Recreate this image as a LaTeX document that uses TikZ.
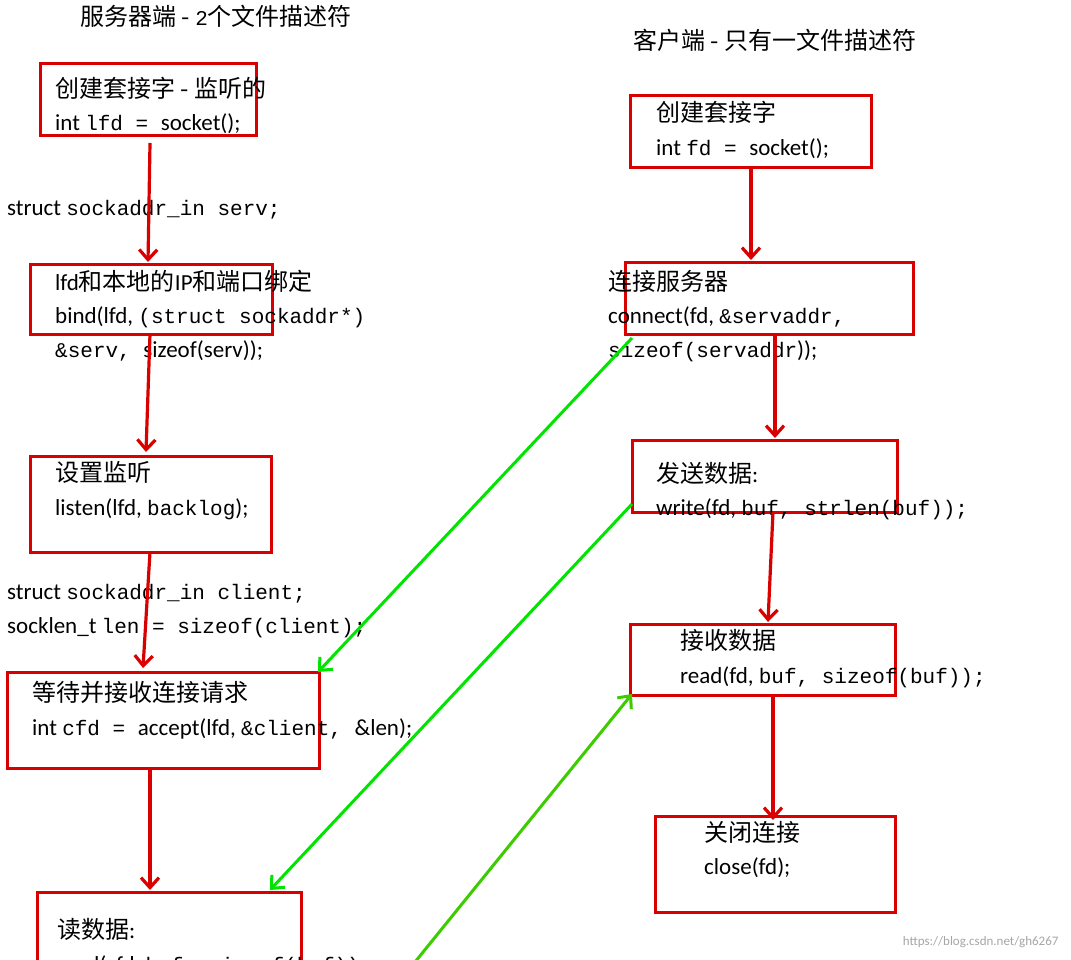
\documentclass[tikz,border=0pt]{standalone}
\usepackage{fontspec}
\setmainfont{Carlito}
\newfontfamily\cjkfam{Noto Sans CJK SC}
\newfontfamily\monofam{Liberation Mono}
\newcommand\zh{\cjkfam\fontsize{24}{26}\selectfont}
\newcommand\cm{\monofam\fontsize{21}{26}\selectfont}
\newcommand\sn{\rmfamily\fontsize{23}{26}\selectfont}
\usetikzlibrary{arrows.meta}
\tikzset{
  stepbox/.style={draw=red!85!black, line width=3pt},
  code/.style={anchor=west, inner sep=0pt, font=\fontsize{23}{26}\selectfont},
  redflow/.style={draw=red!85!black, line width=3.2pt, -{Straight Barb[length=10pt,width=18pt]}},
  greenflow/.style={draw=green!90!black, line width=3pt, -{Straight Barb[length=10pt,width=18pt]}}
}
\begin{document}
\begin{tikzpicture}[x=1pt,y=-1pt]
\useasboundingbox[fill=white] (0,0) rectangle (1071,960);
\clip (0,0) rectangle (1071,960);
% titles
\node[code] (stitle) at (80,16) {\zh 服务器端 - \cm 2\zh 个文件描述符};
\node[code] (ctitle) at (633,40) {\zh 客户端 - 只有一文件描述符};
% server side
\draw[stepbox] (40,64) rectangle (256,136);
\node[code] at (55,88) {\zh 创建套接字 - 监听的};
\node[code] at (55,124) {int \cm lfd = \sn socket();};
\node[code] at (7,210) {struct \cm sockaddr\_in serv;};
\draw[stepbox] (30,264) rectangle (272,334);
\node[code] at (55,281) {lfd\zh 和本地的\sn IP\zh 和端口绑定};
\node[code] at (55,317) {bind(lfd, \cm(struct sockaddr*)};
\node[code] at (55,351) {\cm\&serv, \sn sizeof(serv));};
\draw[stepbox] (30,456) rectangle (271,552);
\node[code] at (55,472) {\zh 设置监听};
\node[code] at (55,509) {listen(lfd, \cm backlog\sn);};
\node[code] at (7,594) {struct \cm sockaddr\_in client;};
\node[code] at (7,628) {socklen\_t \cm len = sizeof(client);};
\draw[stepbox] (7,672) rectangle (319,768);
\node[code] at (32,692) {\zh 等待并接收连接请求};
\node[code] at (32,729) {int \cm cfd = \sn accept(lfd, \cm\&client, \sn \&len);};
\draw[stepbox] (37,892) rectangle (301,975);
\node[code] at (57,929) {\zh 读数据\sn :};
\node[code] at (57,966) {read(cfd, \cm buf, sizeof(buf));};
% client side
\draw[stepbox] (630,96) rectangle (871,168);
\node[code] at (656,112) {\zh 创建套接字};
\node[code] at (656,149) {int \cm fd = \sn socket();};
\draw[stepbox] (625,262) rectangle (913,334);
\node[code] at (608,281) {\zh 连接服务器};
\node[code] at (608,317) {connect(fd, \cm\&servaddr,};
\node[code] at (608,351) {\cm sizeof(servaddr\sn));};
\draw[stepbox] (632,440) rectangle (897,512);
\node[code] at (656,473) {\zh 发送数据\sn :};
\node[code] at (656,509) {write(fd, \cm buf, strlen(buf));};
\draw[stepbox] (630,624) rectangle (895,695);
\node[code] at (680,640) {\zh 接收数据};
\node[code] at (680,677) {read(fd, \cm buf, sizeof(buf));};
\draw[stepbox] (655,816) rectangle (895,912);
\node[code] at (704,832) {\zh 关闭连接};
\node[code] at (704,868) {close(fd);};
% edges
\draw[redflow] (150,143) -- (148,262);
\draw[redflow] (150,334) -- (146,452);
\draw[redflow] (150,552) -- (143,668);
\draw[redflow] (150,768) -- (150,890);
\draw[redflow] (751,168) -- (751,260);
\draw[redflow] (775,334) -- (775,438);
\draw[redflow] (773,512) -- (768,622);
\draw[redflow] (773,695) -- (773,820);
\draw[greenflow] (632,338) -- (318,672);
\draw[greenflow] (632,504) -- (270,890);
\draw[greenflow, draw=green!60!lime!80!black] (415,962) -- (632,694);
\node[anchor=east, text=gray!70, font=\fontsize{13}{15}\selectfont] (mark) at (1062,942) {https://blog.csdn.net/gh6267};
\end{tikzpicture}
\end{document}
